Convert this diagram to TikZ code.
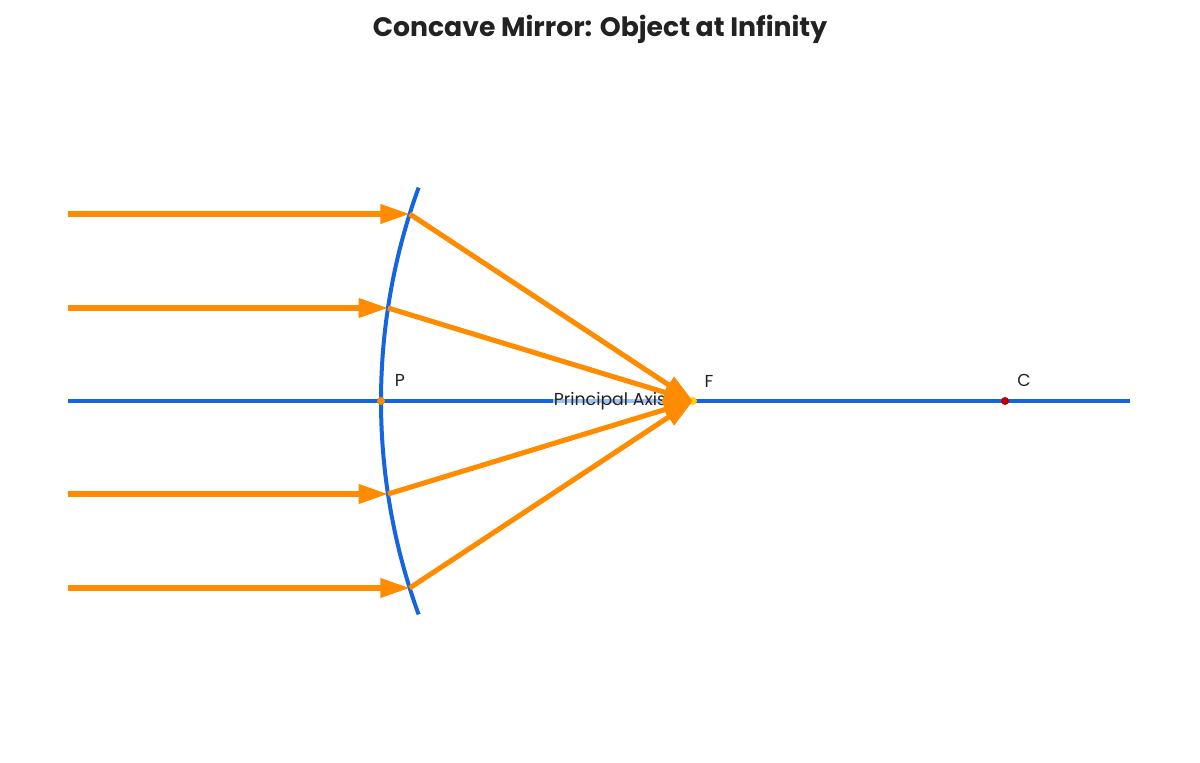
\documentclass[tikz,border=0pt]{standalone}
\usepackage{fontspec}
\setmainfont{Poppins}
\usetikzlibrary{arrows.meta}
\definecolor{ray}{HTML}{FF8C00}
\definecolor{mir}{HTML}{1565E0}
\definecolor{txt}{HTML}{222222}
\begin{document}
\begin{tikzpicture}[x=0.75pt,y=-0.75pt,
  rayl/.style={ray,line width=3.8pt,-{Triangle[length=22pt,width=14pt]}},
  lbl/.style={font=\fontsize{13}{13}\selectfont,text=txt},
  dot/.style={circle,inner sep=0pt,minimum size=6pt}]
\useasboundingbox (0,0) rectangle (1200,763);
\node[font=\fontsize{20}{20}\selectfont\bfseries,text=txt] (title) at (600,29) {Concave Mirror: Object at Infinity};
\coordinate (a0) at (68,401);
\coordinate (a1) at (1130,401);
\draw[mir,line width=3pt] (a0) -- (a1);
\node[lbl,fill=white,fill opacity=0.6,text opacity=1,inner sep=1pt] (pa) at (610,401) {Principal Axis};
\draw[mir,line width=3pt] (418.5,188) arc[start angle=-160,delta angle=0,radius=624] ;
\draw[mir,line width=3pt] (1005,401) ++({180+20.0}:624) coordinate (mt) arc[start angle=200,end angle=160,radius=624];
\node[dot,fill=ray] (P) at (381,401) {};
\node[dot,fill=ray!40!yellow] (F) at (693,401) {};
\node[dot,fill=red!75!black] (C) at (1005,401) {};
\node[lbl] at (400,380) {P};
\node[lbl] at (709,381) {F};
\node[lbl] at (1024,380) {C};
\foreach \y/\x [count=\i] in {214/409.7,308/388,494/388,588/409.7}{
  \coordinate (s\i) at (68,\y);
  \coordinate (h\i) at (\x,\y);
  \draw[rayl] (s\i) -- (h\i);
  \draw[rayl] (h\i) -- (F.center);
}
\end{tikzpicture}
\end{document}
